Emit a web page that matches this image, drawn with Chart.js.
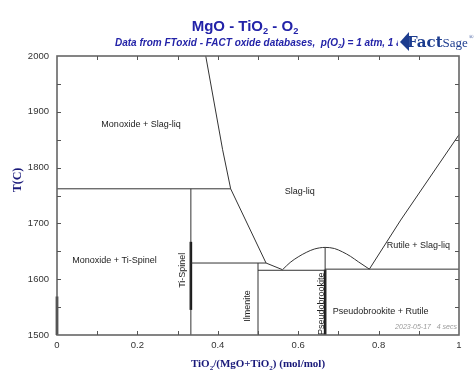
<!DOCTYPE html>
<html><head><meta charset="utf-8">
<script src="https://cdn.jsdelivr.net/npm/chart.js@4.4.1/dist/chart.umd.min.js"></script>
<style>html,body{margin:0;padding:0;background:#fff;}#wrap{width:474px;height:373px;}</style>
</head><body><div id="wrap"><canvas id="c" width="474" height="373"></canvas></div>
<script>
// Liquidus, MgO-rich side (x = TiO2 mole fraction, T in C)
const liqLeftX = [0.370, 0.412, 0.432, 0.520, 0.561];
const liqLeftT = [2000, 1832, 1762, 1629, 1617];
// Pseudobrookite dome
const domeX = [0.561, 0.580, 0.600, 0.620, 0.640, 0.667, 0.690, 0.710, 0.730, 0.750, 0.777];
const domeT = [1617, 1630, 1640, 1648, 1654, 1657, 1655, 1649, 1641, 1631, 1618];
// Rutile liquidus
const rutX = [0.777, 0.855, 1.0];
const rutT = [1618, 1706, 1859];
// Horizontal invariant lines
const tieFromX = [0, 0.333, 0.500, 0.667];
const tieToX = [0.432, 0.520, 0.667, 1.0];
const tieT = [1762, 1629, 1616, 1618];
// Vertical compound lines
const vertX = [0.333, 0.500, 0.667];
const vertTopT = [1762, 1629, 1657];
// Stoichiometric single-phase (thick) segments
const thickX = [0, 0.333, 0.667];
const thickLoT = [1500, 1545, 1500];
const thickHiT = [1569, 1667, 1617];
// Axis ranges and ticks
const xMin = 0, xMax = 1, xStep = 0.2, xMinor = 0.1;
const tMin = 1500, tMax = 2000, tStep = 100, tMinor = 50;
// Phase-field labels [text, x, T, rotated]
const fieldLabels = [
  ["Monoxide + Slag-liq", 0.209, 1877, false],
  ["Slag-liq", 0.604, 1757, false],
  ["Monoxide + Ti-Spinel", 0.143, 1633, false],
  ["Ti-Spinel", 0.312, 1616, true],
  ["Ilmenite", 0.475, 1552, true],
  ["Pseudobrookite", 0.658, 1556, true],
  ["Rutile + Slag-liq", 0.899, 1660, false],
  ["Pseudobrookite + Rutile", 0.805, 1542, false]
];

const LINE = '#333';
const datasets = [];
function addLine(xs, ts, w, col) {
  datasets.push({data: xs.map((x, i) => ({x: x, y: ts[i]})), showLine: true, borderColor: col || LINE,
    borderWidth: w || 1, pointRadius: 0, tension: 0, clip: false, fill: false});
}
addLine(liqLeftX, liqLeftT);
addLine(domeX, domeT);
datasets[datasets.length - 1].cubicInterpolationMode = 'monotone';
addLine(rutX, rutT);
tieT.forEach((t, i) => addLine([tieFromX[i], tieToX[i]], [t, t]));
vertX.forEach((x, i) => addLine([x, x], [tMin, vertTopT[i]]));
thickX.forEach((x, i) => addLine([x, x], [thickLoT[i], thickHiT[i]], 2.6, '#111'));

const deco = {
  id: 'deco',
  afterDraw(chart) {
    const ctx = chart.ctx, a = chart.chartArea;
    const xs = chart.scales.x, ys = chart.scales.y;
    ctx.save();
    // frame
    ctx.strokeStyle = '#666'; ctx.lineWidth = 1.6;
    ctx.strokeRect(a.left, a.top, a.right - a.left, a.bottom - a.top);
    // inward ticks
    ctx.lineWidth = 1; ctx.strokeStyle = '#555';
    ctx.beginPath();
    for (let v = xMin + xMinor; v < xMax - 1e-9; v += xMinor) {
      const p = Math.round(xs.getPixelForValue(v)) + 0.5;
      ctx.moveTo(p, a.bottom); ctx.lineTo(p, a.bottom - 4);
      ctx.moveTo(p, a.top); ctx.lineTo(p, a.top + 4);
    }
    for (let v = tMin + tMinor; v < tMax - 1e-9; v += tMinor) {
      const p = Math.round(ys.getPixelForValue(v)) + 0.5;
      ctx.moveTo(a.left, p); ctx.lineTo(a.left + 4, p);
      ctx.moveTo(a.right, p); ctx.lineTo(a.right - 4, p);
    }
    ctx.stroke();
    // field labels
    ctx.fillStyle = '#222'; ctx.font = '9px "Liberation Sans", Arial, sans-serif';
    ctx.textAlign = 'center'; ctx.textBaseline = 'middle';
    fieldLabels.forEach(l => {
      const px = xs.getPixelForValue(l[1]), py = ys.getPixelForValue(l[2]);
      if (l[3]) { ctx.save(); ctx.translate(px, py); ctx.rotate(-Math.PI / 2); ctx.fillText(l[0], 0, 0); ctx.restore(); }
      else ctx.fillText(l[0], px, py);
    });
    // timestamp
    ctx.fillStyle = '#999'; ctx.font = 'italic 7px "Liberation Sans", Arial, sans-serif';
    ctx.textAlign = 'right';
    ctx.fillText('2023-05-17   4 secs', xs.getPixelForValue(0.995), ys.getPixelForValue(1514));
    // title
    const blue = '#2323a8';
    ctx.fillStyle = blue; ctx.textBaseline = 'alphabetic'; ctx.textAlign = 'left';
    function runs(parts, x, y, size, style) {
      let cx = x;
      parts.forEach(p => {
        const sz = p[1] ? size * 0.62 : size;
        ctx.font = style + ' ' + sz + 'px "Liberation Sans", Arial, sans-serif';
        ctx.fillText(p[0], cx, y + (p[1] ? size * 0.22 : 0));
        cx += ctx.measureText(p[0]).width;
      });
      return cx - x;
    }
    function width(parts, size, style) {
      let w = 0;
      parts.forEach(p => { const sz = p[1] ? size * 0.62 : size; ctx.font = style + ' ' + sz + 'px "Liberation Sans", Arial, sans-serif'; w += ctx.measureText(p[0]).width; });
      return w;
    }
    const tParts = [["MgO - TiO", 0], ["2", 1], [" - O", 0], ["2", 1]];
    const tw = width(tParts, 15, 'bold');
    runs(tParts, 245 - tw / 2, 31, 15, 'bold');
    const sParts = [["Data from FToxid - FACT oxide databases,  p(O", 0], ["2", 1], [") = 1 atm, 1 atm", 0]];
    runs(sParts, 115, 46, 10, 'italic bold');
    // logo
    ctx.fillStyle = '#fff'; ctx.fillRect(398, 29, 76, 24);
    ctx.fillStyle = '#1d3d8f';
    ctx.beginPath(); ctx.moveTo(400, 42); ctx.lineTo(409, 32); ctx.lineTo(409, 51); ctx.closePath(); ctx.fill();
    ctx.font = 'bold 15px "DejaVu Serif", serif'; ctx.fillText('Fact', 407, 47);
    let fw = ctx.measureText('Fact').width;
    ctx.font = '13px "Liberation Serif", serif'; ctx.fillText('Sage', 407 + fw, 47);
    let sw = ctx.measureText('Sage').width;
    ctx.font = '6px "Liberation Serif", serif'; ctx.fillText('®', 408 + fw + sw, 39);
    // axis titles
    const navy = '#1a1a7a';
    ctx.fillStyle = navy;
    const xParts = [["TiO", 0], ["2", 1], ["/(MgO+TiO", 0], ["2", 1], [") (mol/mol)", 0]];
    let w = 0;
    xParts.forEach(p => { ctx.font = 'bold ' + (p[1] ? 7 : 11) + 'px "Liberation Serif", serif'; w += ctx.measureText(p[0]).width; });
    let cx = 258 - w / 2;
    xParts.forEach(p => { ctx.font = 'bold ' + (p[1] ? 7 : 11) + 'px "Liberation Serif", serif'; ctx.fillText(p[0], cx, 367 + (p[1] ? 2.5 : 0)); cx += ctx.measureText(p[0]).width; });
    ctx.save(); ctx.translate(21, 180); ctx.rotate(-Math.PI / 2);
    ctx.font = 'bold 12px "Liberation Serif", serif'; ctx.textAlign = 'center'; ctx.fillText('T(C)', 0, 0);
    ctx.restore();
    ctx.restore();
  }
};

function fmt(v) { return String(Math.round(v * 1000) / 1000); }

new Chart(document.getElementById('c'), {
  type: 'scatter',
  data: {datasets: datasets},
  options: {
    responsive: false, animation: false, devicePixelRatio: 1,
    layout: {padding: {left: 0, right: 15, top: 56, bottom: 0}},
    plugins: {legend: {display: false}, tooltip: {enabled: false}},
    scales: {
      x: {type: 'linear', min: xMin, max: xMax,
        grid: {display: false, drawTicks: false}, border: {display: false},
        ticks: {stepSize: xStep, padding: 5, color: '#333', maxRotation: 0, callback: fmt,
          font: {family: '"Liberation Sans", Arial, sans-serif', size: 9.5}},
        afterFit: s => { s.height = 38; }},
      y: {type: 'linear', min: tMin, max: tMax,
        grid: {display: false, drawTicks: false}, border: {display: false},
        ticks: {stepSize: tStep, padding: 8, color: '#333', callback: fmt,
          font: {family: '"Liberation Sans", Arial, sans-serif', size: 9.5}},
        afterFit: s => { s.width = 57; }}
    }
  },
  plugins: [deco]
});
</script></body></html>
